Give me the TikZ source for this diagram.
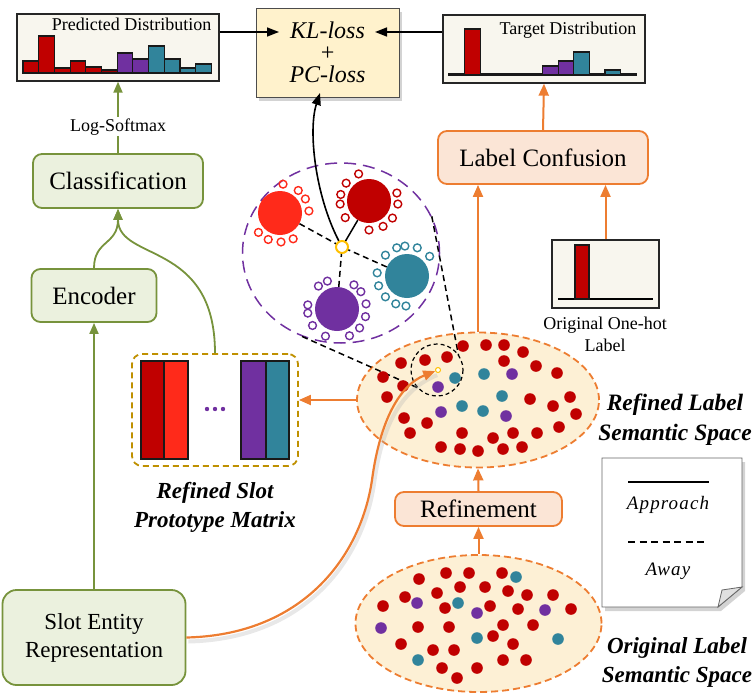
\documentclass[tikz,border=0pt]{standalone}
\usepackage{fontspec}
\setmainfont{Liberation Serif}
\usetikzlibrary{arrows.meta,shapes.geometric,shadows,calc}

\definecolor{dred}{HTML}{C00000}
\definecolor{bred}{HTML}{FF2A1A}
\definecolor{purp}{HTML}{7030A0}
\definecolor{tealc}{HTML}{31849B}
\definecolor{grn}{HTML}{77933C}
\definecolor{grnfill}{HTML}{EBF1DE}
\definecolor{org}{HTML}{ED7D31}
\definecolor{orgfill}{HTML}{FBE5D6}
\definecolor{cream}{HTML}{F8F6EE}
\definecolor{klfill}{HTML}{FFF2CC}
\definecolor{spfill}{HTML}{FDF0D5}
\definecolor{gold}{HTML}{BF9000}
\definecolor{ringy}{HTML}{FFC000}

\tikzset{
  greenbox/.style={draw=grn, fill=grnfill, line width=1.8pt, rounded corners=9pt, align=center, inner sep=0pt, font=\fontsize{25}{28}\selectfont},
  orangebox/.style={draw=org, fill=orgfill, line width=1.8pt, rounded corners=9pt, inner sep=0pt, font=\fontsize{25}{28}\selectfont},
  distbox/.style={draw=black!85, fill=cream, line width=1.3pt, inner sep=0pt},
  bar/.style={draw=black!90, line width=1.1pt},
  semspace/.style={ellipse, draw=org, fill=spfill, line width=1.8pt, dash pattern=on 7pt off 4pt, inner sep=0pt},
  bigdot/.style={circle, minimum size=44pt, inner sep=0pt},
  ring/.style={line width=1.4pt},
  kdash/.style={black, line width=1.5pt, dash pattern=on 6pt off 4pt},
  garrow/.style={draw=grn, line width=1.8pt, -{Triangle[length=11pt,width=9pt]}},
  oarrow/.style={draw=org, line width=2pt, -{Triangle[length=12pt,width=10pt]}},
  karrow/.style={draw=black, line width=1.6pt, -{Triangle[length=12pt,width=9pt]}}
}

\begin{document}
\begin{tikzpicture}[x=1pt,y=-1pt]
\useasboundingbox (0,0) rectangle (754,693);

    %PREDICTED DISTRIBUTION:
     \node[distbox, minimum width=202pt, minimum height=67pt] (pred) at (118,47.5) {};
     \node[anchor=base east, font=\fontsize{18}{20}\selectfont] (predtxt) at (215,31) {Predicted Distribution};
     \foreach \h/\c [count=\i from 0] in {12/dred,37/dred,5/dred,12/dred,6/dred,3/dred!80!black,20/purp,14/purp,27/tealc,14/tealc,5/tealc,9/tealc}
       \draw[bar, fill=\c] (23+\i*15.7,73) rectangle ++(15.7,-\h);

    %TARGET DISTRIBUTION:
     \node[distbox, minimum width=202pt, minimum height=68pt] (tgt) at (544,49) {};
     \node[anchor=base east, font=\fontsize{18}{20}\selectfont] (tgttxt) at (640,35) {Target Distribution};
     \foreach \h/\c [count=\i from 0] in {1.5/dred,46/dred,1.5/dred,1.5/dred,1.5/dred,1.5/dred,9/purp,14/purp,23/tealc,1.5/tealc,5/tealc,1.5/tealc}
       \draw[bar, fill=\c] (449+\i*15.6,75) rectangle ++(15.6,-\h);

    %LOSS:
     \node[fill=klfill, draw=black!70, line width=0.8pt, minimum width=143pt, minimum height=89pt, align=center,
           drop shadow={shadow xshift=3pt, shadow yshift=-4pt, opacity=.35},
           font=\fontsize{24}{22}\selectfont\itshape] (kl) at (327.5,52.5) {KL-loss\\+\\PC-loss};
     \coordinate (klL) at (279,32);
     \coordinate (klR) at (375,32);
     \coordinate (klB) at (320,93);
     \draw[karrow] (pred.east |- klL) -- (klL);
     \draw[karrow] (tgt.west |- klR) -- (klR);

    %LABEL CONFUSION:
     \node[orangebox, minimum width=210pt, minimum height=53pt] (lconf) at (543,157.5) {Label Confusion};
     \draw[oarrow] (lconf.north) -- (tgt.south);
     %one-hot ----------------------
     \node[distbox, minimum width=107pt, minimum height=68pt] (onehot) at (605.5,274) {};
     \draw[line width=1.8pt] (558,299) -- (653,299);
     \draw[bar, fill=dred] (575,299) rectangle (589,245);
     \node[align=center, font=\fontsize{18}{22}\selectfont] (onehottxt) at (605,334) {Original One-hot\\Label};
     \draw[oarrow] (onehot.north) -- (onehot.north |- lconf.south);
     %----------------------------------

    %REFINED SLOT PROTOTYPE MATRIX:
     \node[draw=gold, dash pattern=on 6pt off 4pt, line width=1.8pt, rounded corners=10pt, minimum width=166pt, minimum height=112pt] (proto) at (215,410) {};
     \draw[bar, fill=dred] (141,361) rectangle (164,459);
     \draw[bar, fill=bred] (164,361) rectangle (188,459);
     \draw[bar, fill=purp] (241,361) rectangle (266,459);
     \draw[bar, fill=tealc] (266,361) rectangle (289,459);
     \foreach \x in {207,215,223} \fill[purp] (\x,409) circle (2.2);
     \node[align=center, font=\fontsize{23}{29}\selectfont\bfseries\itshape] (prototxt) at (215,507) {Refined Slot\\Prototype Matrix};

    %GREEN BRANCH:
     \node[greenbox, minimum width=170pt, minimum height=54pt] (cls) at (118,181) {Classification};
     \node[greenbox, minimum width=125pt, minimum height=53pt] (enc) at (94,295.5) {Encoder};
     \node[greenbox, minimum width=183pt, minimum height=95pt, rounded corners=14pt, font=\fontsize{23}{28}\selectfont] (slot) at (94,637.5) {Slot Entity\\Representation};
     \draw[garrow] (cls.north) -- node[pos=0.37, fill=white, inner sep=1pt, font=\fontsize{18}{20}\selectfont] (logsm) {Log-Softmax} (pred.south);
     \draw[garrow] (slot.north) -- (enc.south);
     \draw[garrow] (enc.north) .. controls (94,240) and (118,245) .. (cls.south);
     \draw[garrow] (proto.north) .. controls (215,240) and (118,262) .. (cls.south);

    %ZOOM CIRCLE:
     \node[ellipse, draw=purp, dash pattern=on 12pt off 7pt, line width=1.5pt, minimum width=197pt, minimum height=180pt, inner sep=0pt] (zoomc) at (341,253) {};
     \node[bigdot, fill=bred] (cr) at (280,213) {};
     \node[bigdot, fill=dred] (cd) at (369,201) {};
     \node[bigdot, fill=tealc] (ct) at (407,276) {};
     \node[bigdot, fill=purp] (cp) at (337,309) {};
     \node[circle, draw=ringy, fill=white, line width=2pt, minimum size=12pt, inner sep=0pt] (yc) at (342,247) {};
     \draw[kdash] (cr) -- (yc);
     \draw[black, line width=1.5pt] (cd) -- (yc);
     \draw[kdash] (ct) -- (yc);
     \draw[kdash] (cp) -- (yc);
     \foreach \a in {84,51,29,4,222,246,272,297} \draw[ring, bred] (cr) ++({-\a}:29) circle (3.9);
     \foreach \a in {111,142,167,186,215,270,299,324,16,354} \draw[ring, dred] (cd) ++({-\a}:29) circle (3.9);
     \foreach \a in {136,110,94,70,41,174,199,224,248,268} \draw[ring, tealc] (ct) ++({-\a}:30) circle (3.9);
     \foreach \a in {129,109,55,36,10,345,172,188,214,247,295,320} \draw[ring, purp] (cp) ++({-\a}:29.5) circle (3.9);
     \draw[karrow] (yc) .. controls (315,195) and (308,130) .. (klB);

    %REFINED LABEL SEMANTIC SPACE:
     \node[semspace, minimum width=242pt, minimum height=135pt] (refsp) at (478,400) {};
     \node[circle, minimum size=52pt, inner sep=0pt] (lens) at (437,370) {};
     \draw[kdash] (zoomc.245) -- (lens.223);
     \draw[kdash] (zoomc.22) -- (lens.35);
     \foreach \x/\y in {463/346,486/345,504/345,523/352,504/361,536/366,557/373,425/360,447/357,401/363,383/377,403/386,387/397,530/399,553/406,570/397,576/414,559/427,537/433,513/433,493/438,462/433,522/447,503/449,478/451,460/449,441/447,427/423,404/418,410/433}
       \fill[dred] (\x,\y) circle (5.8);
     \foreach \x/\y in {455/378,484/374,502/396,462/406,483/411} \fill[tealc] (\x,\y) circle (5.8);
     \foreach \x/\y in {512/374,438/387,441/412,506/416} \fill[purp] (\x,\y) circle (5.8);
     \draw[black, line width=1.2pt, dash pattern=on 4pt off 3pt] (lens) circle (26);
     \node[circle, draw=ringy, fill=white, line width=1pt, minimum size=5pt, inner sep=0pt] (yp) at (438,370) {};
     \node[align=center, font=\fontsize{23.5}{30}\selectfont\bfseries\itshape] (refsptxt) at (675,420) {Refined Label\\Semantic Space};

    %ORIGINAL LABEL SEMANTIC SPACE:
     \node[semspace, minimum width=246pt, minimum height=137pt] (orsp) at (478.5,623.5) {};
     \foreach \x/\y in {419/579,446/573,469/573,502/573,405/597,437/593,460/587,485/587,508/591,527/595,553/595,383/606,445/608,490/606,518/609,571/609,418/627,449/627,503/625,533/625,401/644,433/650,454/650,493/636,513/644,442/668,477/668,457/678,503/660,526/660}
       \fill[dred] (\x,\y) circle (5.8);
     \foreach \x/\y in {516/577,458/603,477/638,558/639,418/660} \fill[tealc] (\x,\y) circle (5.8);
     \foreach \x/\y in {417/603,477/613,545/610,381/628} \fill[purp] (\x,\y) circle (5.8);
     \node[align=center, font=\fontsize{23}{29}\selectfont\bfseries\itshape] (orsptxt) at (677,662) {Original Label\\Semantic Space};

    %REFINEMENT:
     \node[orangebox, minimum width=167pt, minimum height=34pt] (refine) at (478.5,509) {Refinement};
     \draw[oarrow] (orsp.north) -- (refine.south);
     \draw[oarrow] (refine.north) -- (refsp.south);
     \draw[oarrow] (refsp.north) -- (refsp.north |- lconf.south);
     \draw[oarrow] (refsp.west) -- (refsp.west -| proto.east);

    %SLOT TO SPACE:
     \draw[black!30, opacity=.3, line width=4pt, transform canvas={shift={(2pt,-4pt)}}] (slot.east) .. controls (300,635) and (360,560) .. (372,480) .. controls (380,420) and (400,385) .. (yp);
     \draw[oarrow, line width=2.2pt] (slot.east) .. controls (300,635) and (360,560) .. (372,480) .. controls (380,420) and (400,385) .. (yp);

    %LEGEND:
     \draw[fill=white, draw=black!60, line width=0.8pt, drop shadow={shadow xshift=3pt, shadow yshift=-4pt, opacity=.35}]
       (602,458) -- (742,458) -- (742,587) -- (718,607) -- (602,607) -- cycle;
     \draw[fill=black!12, draw=black!60, line width=0.8pt] (742,587) -- (722,590) -- (718,607) -- cycle;
     \coordinate (lg1) at (628,482);
     \coordinate (lg2) at (709,482);
     \coordinate (lg3) at (628,542);
     \coordinate (lg4) at (707,542);
     \draw[line width=1.6pt] (lg1) -- (lg2);
     \draw[line width=1.6pt, dash pattern=on 7pt off 4.5pt] (lg3) -- (lg4);
     \node[font=\fontsize{19}{20}\selectfont\itshape\addfontfeature{LetterSpace=6}] (apptxt) at (668,505) {Approach};
     \node[font=\fontsize{19}{20}\selectfont\itshape\addfontfeature{LetterSpace=6}] (awaytxt) at (668,571) {Away};
\end{tikzpicture}
\end{document}
